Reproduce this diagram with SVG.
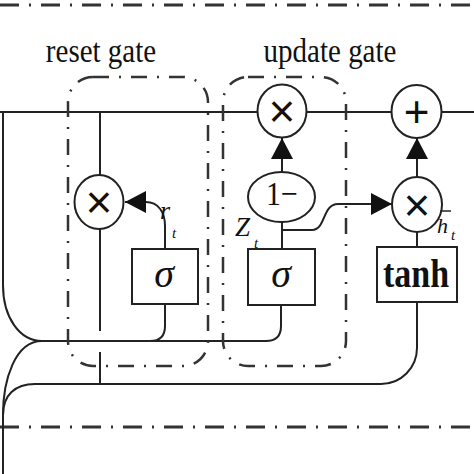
<svg xmlns="http://www.w3.org/2000/svg" width="474" height="474" viewBox="0 0 474 474">
<style>
.ln{fill:none;stroke:#222;stroke-width:2}
.dd{fill:none;stroke:#333;stroke-width:2.5;stroke-dasharray:16 10 2 10}
.bd{fill:none;stroke:#333;stroke-width:3;stroke-dasharray:19 10 2 10}
.nd{fill:#fff;stroke:#222;stroke-width:2}
.t{font-family:"Liberation Serif","Times New Roman",serif;fill:#111}
.s{font-family:"Liberation Sans",Arial,sans-serif;fill:#111}
</style>
<defs>
<marker id="ah" markerUnits="userSpaceOnUse" markerWidth="22" markerHeight="22" refX="21" refY="11" orient="auto">
<path d="M0,0 L21,11 L0,22 z" fill="#111"/>
</marker>
</defs>
<rect width="474" height="474" fill="#fff"/>
<g id="frame">
<line class="bd" x1="0" y1="5" x2="474" y2="5"/>
<line class="bd" x1="0" y1="427" x2="474" y2="427"/>
</g>
<g id="connectors">
<line class="ln" x1="0" y1="112" x2="474" y2="112"/>
<path class="ln" d="M3,112 V285 C3,318 20,341 42,341 H150 Q165,341 165,326 V304"/>
<path class="ln" d="M3,474 V415 C3,380 15,341 42,341 H266 Q281,341 281,326 V305"/>
<path class="ln" d="M3,415 C3,395 15,384 35,384 H381 A36,36 0 0 0 417,348 V302"/>
<path class="ln" d="M100,112 V175 M100,229 V331 M100,352 V384"/>
<path class="ln" d="M165,249 V226 C165,212 158,202 146,202 L125,202" marker-end="url(#ah)"/>
<path class="ln" d="M282,249 V222"/>
<path class="ln" d="M282,172 V138" marker-end="url(#ah)"/>
<path class="ln" d="M282,230 H312 C326,230 322,204 338,204 H392" marker-end="url(#ah)"/>
<path class="ln" d="M417,177 V138" marker-end="url(#ah)"/>
<path class="ln" d="M417,232 V247"/>
</g>
<g id="reset_gate">
<rect class="dd" x="68" y="77" width="140" height="289" rx="25"/>
<text class="t" font-size="29" text-anchor="middle" transform="translate(101,62) scale(1,1.15)">reset gate</text>
</g>
<g id="update_gate">
<rect class="dd" x="223" y="77" width="123" height="289" rx="25"/>
<text class="t" font-size="29" text-anchor="middle" transform="translate(330,62) scale(1,1.15)">update gate</text>
</g>
<g id="reset_mul">
<ellipse class="nd" cx="99" cy="202" rx="24.5" ry="27"/>
<text class="s" font-size="46" text-anchor="middle" x="99" y="218">×</text>
</g>
<g id="update_mul">
<ellipse class="nd" cx="282" cy="111" rx="24.5" ry="26.5"/>
<text class="s" font-size="46" text-anchor="middle" x="282" y="127">×</text>
</g>
<g id="add">
<ellipse class="nd" cx="416.5" cy="111.5" rx="25" ry="26.5"/>
<text class="s" font-size="44" text-anchor="middle" x="416.5" y="127">+</text>
</g>
<g id="cand_mul">
<ellipse class="nd" cx="417" cy="204.5" rx="25" ry="27.5"/>
<text class="s" font-size="46" text-anchor="middle" x="417" y="220.5">×</text>
</g>
<g id="one_minus">
<ellipse class="nd" cx="281.5" cy="197" rx="33.5" ry="25"/>
<text class="t" font-size="30" text-anchor="middle" transform="translate(282,205) scale(1,1.12)">1−</text>
</g>
<g id="reset_sigma">
<rect class="nd" x="132" y="249" width="66" height="55"/>
<text class="t" font-size="40" font-style="italic" text-anchor="middle" x="164" y="287">σ</text>
</g>
<g id="update_sigma">
<rect class="nd" x="248" y="249" width="67" height="56"/>
<text class="t" font-size="40" font-style="italic" text-anchor="middle" x="281" y="287">σ</text>
</g>
<g id="tanh">
<rect class="nd" x="377" y="247" width="80" height="55"/>
<text class="t" font-size="34" font-weight="bold" text-anchor="middle" transform="translate(416,287) scale(1,1.15)">tanh</text>
</g>
<g id="labels">
<text class="t" font-size="26" font-style="italic" x="160" y="219">r</text>
<text class="t" font-size="15" font-style="italic" x="172" y="238">t</text>
<text class="t" font-size="27" font-style="italic" x="235" y="236">Z</text>
<text class="t" font-size="15" font-style="italic" x="254" y="248">t</text>
<text class="t" font-size="22" font-style="italic" x="437" y="233">h</text>
<line x1="440" y1="211" x2="451" y2="211" stroke="#222" stroke-width="1.5"/>
<text class="t" font-size="15" font-style="italic" x="451" y="240">t</text>
</g>
</svg>
